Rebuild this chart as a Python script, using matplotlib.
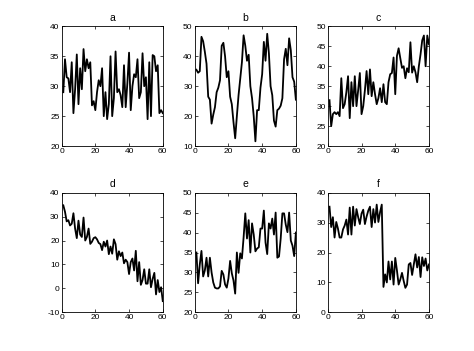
import matplotlib
matplotlib.use("Agg")
import matplotlib.pyplot as plt

x = list(range(1, 61))

series_a = [29, 34.5, 31.5, 31.3, 29, 34, 25.5, 29.5, 35.3, 27,
            33, 29.5, 36.2, 32.5, 34.5, 33, 34, 26.8, 27.5, 26,
            29, 31, 30, 33, 25, 29, 24.5, 27, 35, 25,
            28, 35.8, 29, 29.5, 28.5, 26.5, 33.5, 26.5, 30.5, 35.6,
            26, 30, 32, 31.5, 34.5, 28, 29, 35.5, 30, 31.5,
            24.5, 34, 25, 35.2, 35, 32.5, 33.5, 25.5, 26, 25.5]

series_b = [35.5, 34.5, 35, 46.5, 45, 41.5, 37.5, 26.5, 25.5, 17.5,
            20.5, 23, 28, 29.5, 32, 43.5, 44.5, 40, 33, 35,
            26.5, 24, 18, 12.6, 20, 27, 32.5, 38, 47, 43.5,
            38.5, 40.5, 30, 26, 20, 11.6, 22, 22, 29.5, 34,
            44.8, 38.5, 47.5, 41, 30, 27, 18.5, 16.5, 22, 22.5,
            23.5, 26, 39, 42.5, 37, 46, 42, 33, 31.5, 25.5]

series_c = [31.5, 25, 28, 28.5, 28, 28.5, 27.5, 37, 29.5, 30.5,
            33.5, 37.5, 27, 36, 30, 37.5, 30, 34, 38.3, 28,
            30, 34, 38.8, 33, 39.2, 32.5, 36, 33, 30.5, 32,
            34.5, 31, 35.5, 31, 30.5, 36, 38, 38.3, 42.2, 33,
            42.6, 44.5, 42, 39.6, 40, 37, 39.5, 38.5, 46, 38.4,
            40, 38.5, 36, 40, 43, 46.5, 47.7, 40, 47.7, 45.5]

series_d = [34.7, 32, 28, 28.5, 26.3, 27, 31.4, 25, 21, 28.3,
            22.5, 21.5, 29.6, 20, 21.5, 25, 18.6, 19.5, 21, 21.4,
            20.5, 19, 18.5, 16, 19.5, 17.5, 20, 14.3, 17.5, 14.5,
            20.5, 18.5, 12, 15.5, 13.5, 15, 10.5, 12, 11, 6,
            11, 12.5, 7.5, 15.7, 3, 11, 1.5, 3.5, 8, 2,
            2, 8, 0.5, 4, 6.5, -2.5, 3.5, -1.5, 0.5, -5.3]

series_e = [35, 27.3, 32, 35.4, 29, 30.5, 33.7, 29, 33.7, 30,
            27.5, 26.2, 26, 26, 26.5, 30.4, 29.5, 27, 26.2, 28.5,
            32.9, 29.8, 28, 24.7, 35, 29.9, 34.8, 33.5, 38.8, 44.8,
            38.5, 43.1, 35, 42.3, 39.5, 35.3, 36, 36.3, 41, 41,
            45.5, 37.5, 34.6, 42.3, 41, 43.5, 39.5, 45, 33.7, 34,
            38.5, 44.8, 44.8, 42, 40.1, 45, 38, 36.7, 34.1, 40]

series_f = [35.3, 28.5, 31.8, 25, 30.2, 28, 25, 25, 27.7, 29,
            31, 26, 35, 26, 35.3, 29, 34.5, 31.8, 29.5, 33,
            34.3, 29.5, 32, 34, 35.3, 28.5, 34.5, 30, 36, 30.2,
            33.5, 36, 8.5, 12.7, 10, 17, 11, 17, 9.3, 18.2,
            14, 9.3, 11, 13.2, 10.5, 8.2, 9.3, 16, 16.5, 12.5,
            16, 19.4, 15, 18.5, 11.8, 18.4, 15.5, 18, 14, 16]

titles = ["a", "b", "c", "d", "e", "f"]
all_series = [series_a, series_b, series_c, series_d, series_e, series_f]
y_limits = [(20, 40), (10, 50), (20, 50), (-10, 40), (20, 50), (0, 40)]
y_steps = [5, 10, 5, 10, 5, 10]

plt.rcParams["font.family"] = ["Liberation Sans", "DejaVu Sans"]
plt.rcParams["axes.unicode_minus"] = False

fig = plt.figure(figsize=(4.74, 3.51), dpi=100)

# matlab-style 2x3 subplot grid
lefts = [0.13, 0.4108, 0.6916]
bottoms = [0.5838, 0.11]

for i, (title, ys) in enumerate(zip(titles, all_series)):
    row, col = divmod(i, 3)
    ax = fig.add_axes([lefts[col], bottoms[row], 0.2134, 0.3412])
    ax.plot(x, ys, color="black", linewidth=1.3)
    lo, hi = y_limits[i]
    ax.set_xlim(0, 60)
    ax.set_ylim(lo, hi)
    ax.set_xticks([0, 20, 40, 60])
    ax.set_yticks(list(range(lo, hi + 1, y_steps[i])))
    ax.tick_params(direction="in", length=2.5, width=0.5, labelsize=6,
                   top=True, right=True, pad=1.5)
    for spine in ax.spines.values():
        spine.set_linewidth(0.6)
    ax.set_title(title, fontsize=7.5, pad=4)

fig.savefig("out.png", dpi=100)
